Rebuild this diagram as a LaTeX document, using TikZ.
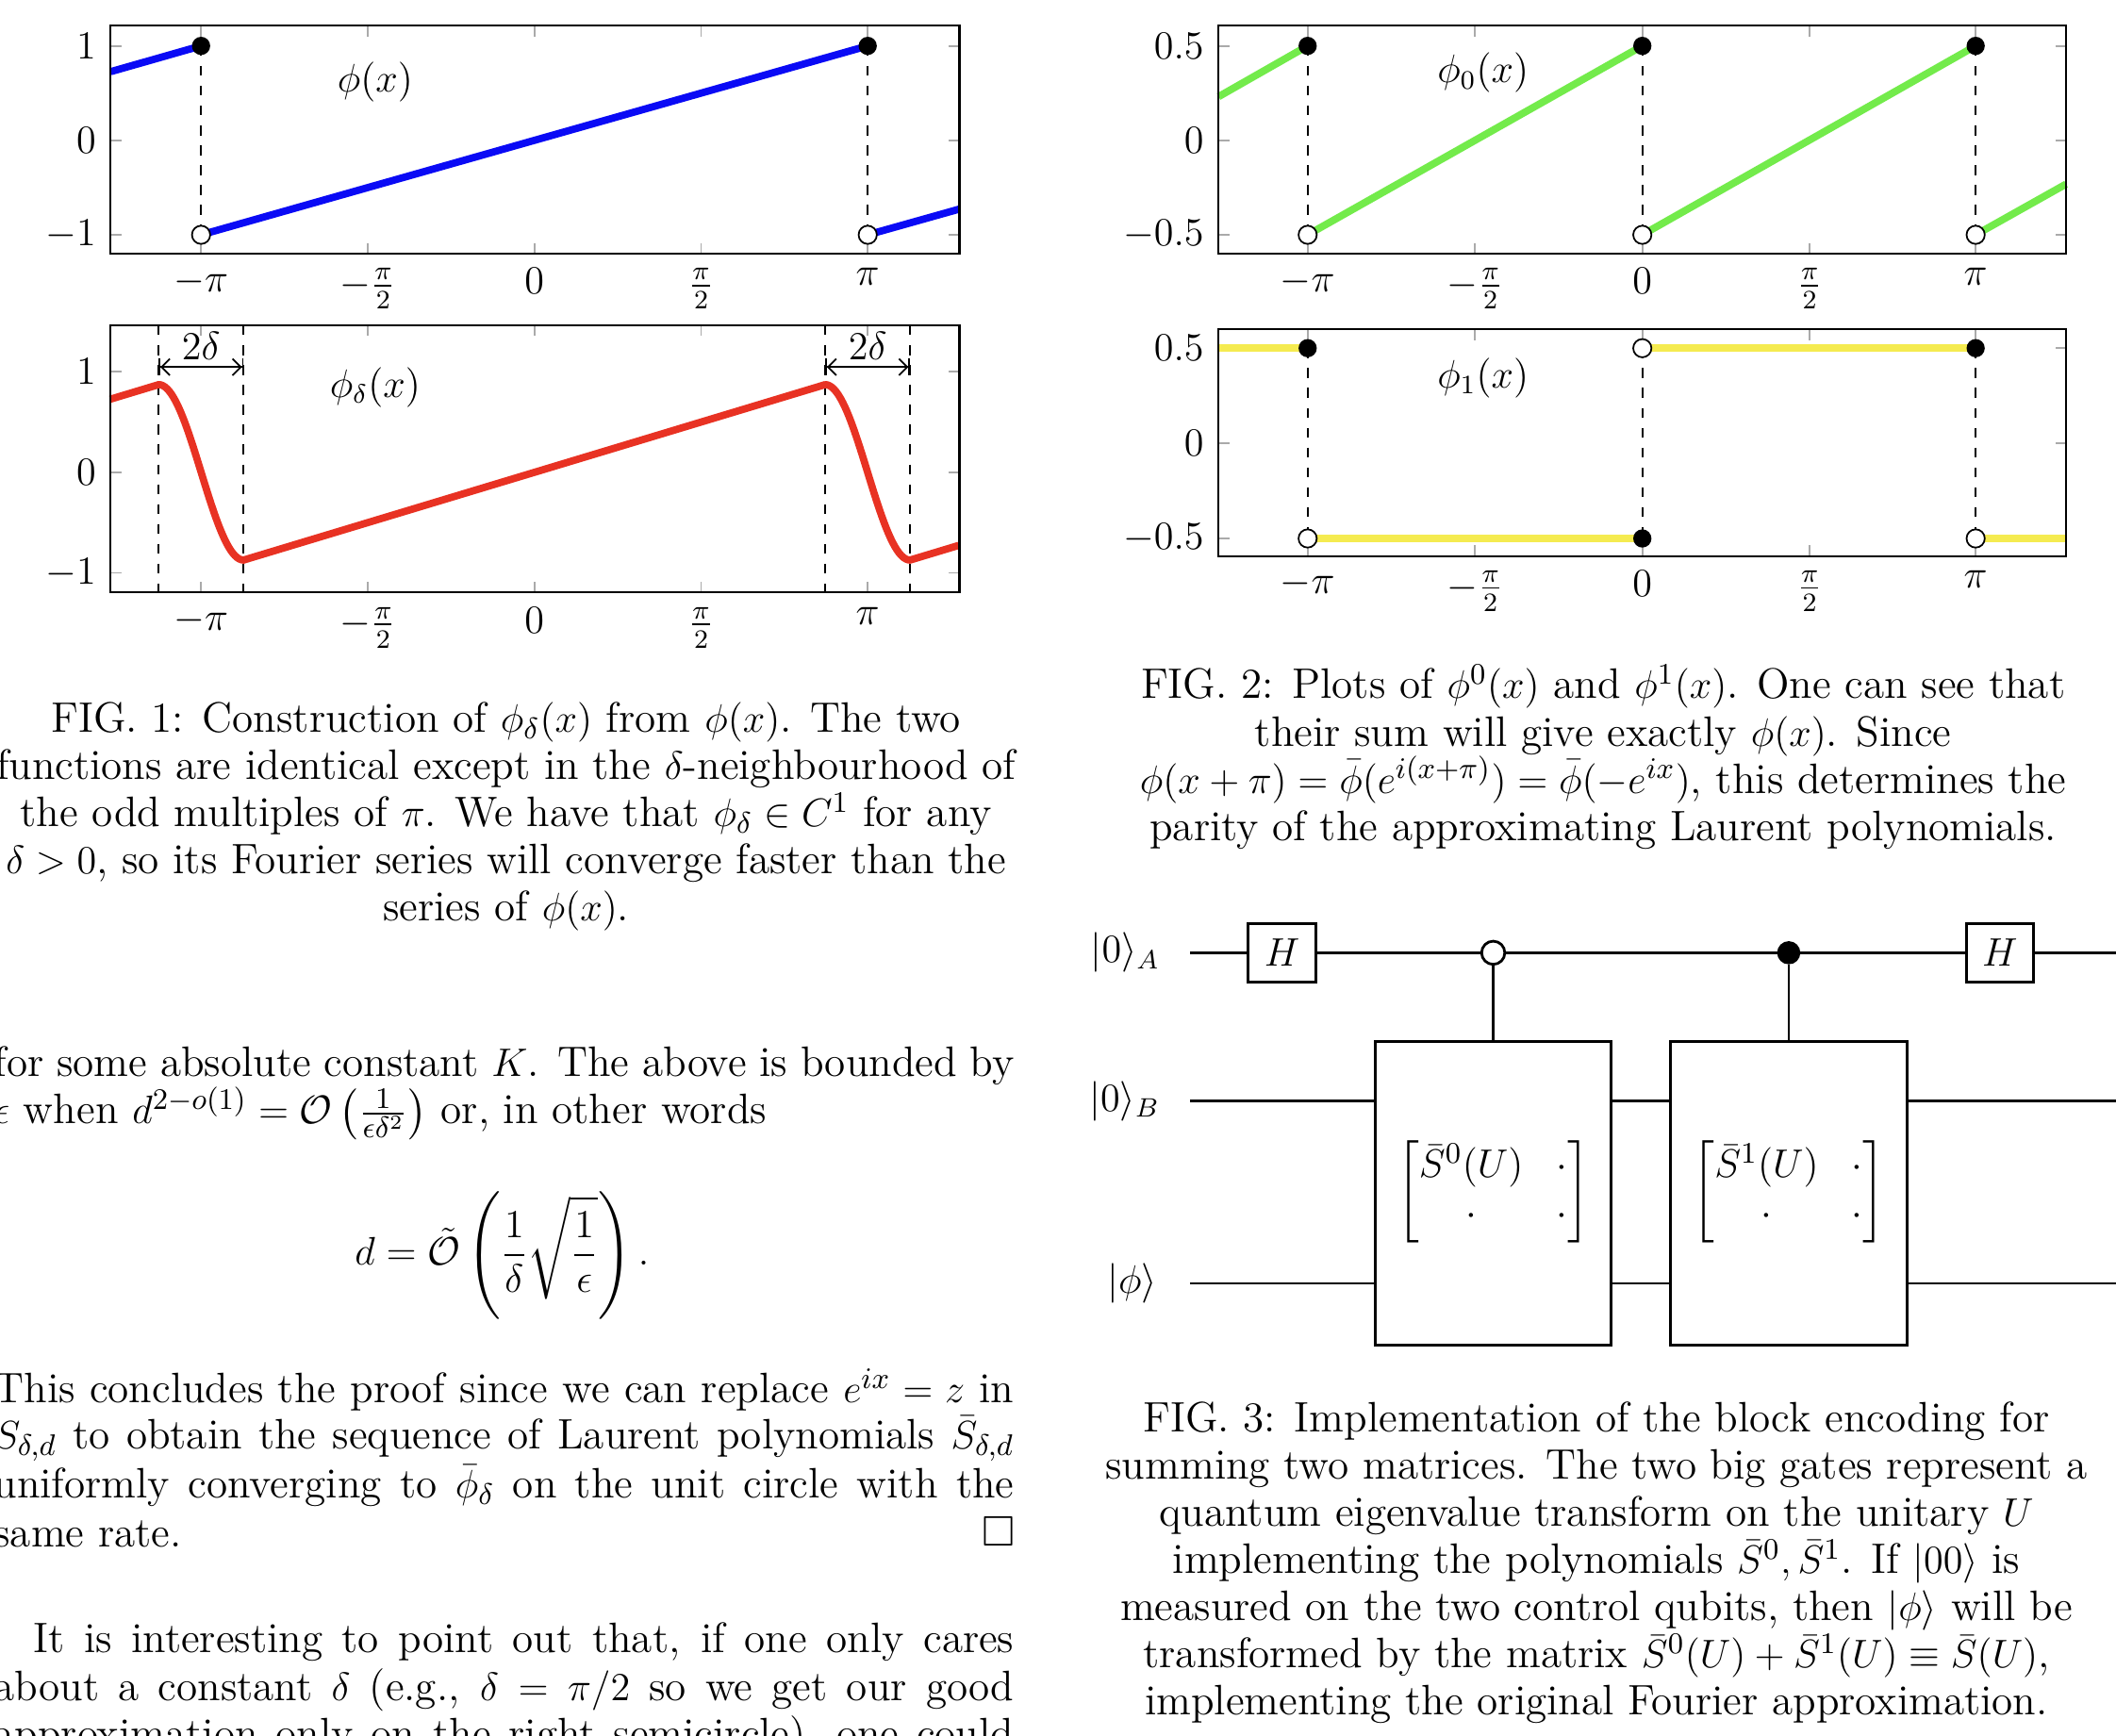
\documentclass[tikz,border=0pt]{standalone}
\usepackage{amsmath,amssymb}
\usetikzlibrary{arrows.meta}
\definecolor{cblue}{RGB}{10,10,245}
\definecolor{cgreen}{RGB}{115,235,75}
\definecolor{cyellow}{RGB}{245,235,80}
\definecolor{cred}{RGB}{232,50,35}
\definecolor{tickg}{RGB}{170,170,170}
\newcommand{\mytxt}{\fontsize{12.85}{14.25}\selectfont}
\newcommand{\plt}{\fontsize{12}{14}\selectfont}
\newcommand{\jl}[1]{\makebox[10.82cm][s]{#1}}
\tikzset{
  frame/.style={draw=black,line width=0.6pt},
  tk/.style={draw=tickg,line width=0.5pt},
  dsh/.style={dashed,line width=0.5pt},
  fdot/.style={circle,fill=black,inner sep=0pt,minimum size=5.5pt},
  odot/.style={circle,draw=black,fill=white,inner sep=0pt,minimum size=5.5pt,line width=0.5pt},
  curve/.style={line width=2.2pt},
  lab/.style={font=\plt,inner sep=1pt},
  ylab/.style={font=\plt,anchor=east,inner sep=1pt},
  line/.style={font=\mytxt,inner sep=0pt},
  wire/.style={line width=0.8pt},
  gate/.style={draw,line width=0.8pt,fill=white},
  dimarr/.style={{Bar[width=5pt]Straight Barb[length=2.5pt]}-{Straight Barb[length=2.5pt]Bar[width=5pt]},line width=0.5pt},
}
\begin{document}
\begin{tikzpicture}[x=0.01431cm,y=-0.01431cm]
\useasboundingbox (0,0) rectangle (1568,1286);
\clip (0,0) rectangle (1568,1286);
%%%% ---------- Plot 1: phi ----------
\foreach \xx in {149,272.5,396,519.5,643}{\draw[tk] (\xx,19)--(\xx,27); \draw[tk] (\xx,188)--(\xx,180);}
\foreach \yy in {34,104,174}{\draw[tk] (82,\yy)--(90,\yy); \draw[tk] (711,\yy)--(703,\yy);}
\draw[dsh] (149,34)--(149,174); \draw[dsh] (643,34)--(643,174);
\draw[cblue,curve] (82,53.1)--(149,34);
\draw[cblue,curve] (149,174)--(643,34);
\draw[cblue,curve] (643,174)--(711,154.9);
\draw[frame] (82,19) rectangle (711,188);
\node[fdot] (p1a) at (149,34) {}; \node[fdot] (p1b) at (643,34) {};
\node[odot] (p1c) at (149,174) {}; \node[odot] (p1d) at (643,174) {};
\node[lab] (l1) at (278,61) {$\phi(x)$};
\node[ylab] (y1a) at (74,34) {$1$};\node[ylab] (y1b) at (74,104) {$0$};\node[ylab] (y1c) at (74,174) {$-1$};
\node[lab,anchor=north] (x1a) at (149,196) {$-\pi$};
\node[lab,anchor=north] (x1b) at (272.5,196) {$-\frac{\pi}{2}$};
\node[lab,anchor=north] (x1c) at (396,196) {$0$};
\node[lab,anchor=north] (x1d) at (519.5,196) {$\frac{\pi}{2}$};
\node[lab,anchor=north] (x1e) at (643,196) {$\pi$};
%%%% ---------- Plot 2: phi_delta ----------
\foreach \xx in {149,272.5,396,519.5,643}{\draw[tk] (\xx,241)--(\xx,249); \draw[tk] (\xx,439)--(\xx,431);}
\foreach \yy in {275.5,350,424.5}{\draw[tk] (82,\yy)--(90,\yy); \draw[tk] (711,\yy)--(703,\yy);}
\foreach \xx in {117.6,180.5,611.5,674.4}{\draw[dsh] (\xx,241)--(\xx,439);}
\draw[cred,curve,line join=round]
  plot[domain=-4:-3.5416,samples=2] ({396+78.6*\x},{350-74.5*(\x/pi+2)})
  -- plot[domain=-3.5416:-2.7416,samples=40] ({396+78.6*\x},{350-74.5*0.8727*cos(deg(pi*(\x+3.5416)/0.8))})
  -- plot[domain=-2.7416:2.7416,samples=2] ({396+78.6*\x},{350-74.5*(\x/pi)})
  -- plot[domain=2.7416:3.5416,samples=40] ({396+78.6*\x},{350-74.5*0.8727*cos(deg(pi*(\x-2.7416)/0.8))})
  -- plot[domain=3.5416:4,samples=2] ({396+78.6*\x},{350-74.5*(\x/pi-2)});
\draw[frame] (82,241) rectangle (711,439);
\coordinate (d1) at (117.6,272); \coordinate (d2) at (180.5,272);
\coordinate (d3) at (611.5,272); \coordinate (d4) at (674.4,272);
\draw[dimarr] (d1)--(d2);
\draw[dimarr] (d3)--(d4);
\node[lab] (dl1) at (149,256) {$2\delta$};
\node[lab] (dl2) at (643,256) {$2\delta$};
\node[lab] (l2) at (278,287) {$\phi_\delta(x)$};
\node[ylab] (y2a) at (74,275.5) {$1$};\node[ylab] (y2b) at (74,350) {$0$};\node[ylab] (y2c) at (74,424.5) {$-1$};
\node[lab,anchor=north] (x2a) at (149,447) {$-\pi$};
\node[lab,anchor=north] (x2b) at (272.5,447) {$-\frac{\pi}{2}$};
\node[lab,anchor=north] (x2c) at (396,447) {$0$};
\node[lab,anchor=north] (x2d) at (519.5,447) {$\frac{\pi}{2}$};
\node[lab,anchor=north] (x2e) at (643,447) {$\pi$};
%%%% ---------- Plot 3: phi0 ----------
\foreach \xx in {969,1093,1217,1341,1464}{\draw[tk] (\xx,19)--(\xx,27); \draw[tk] (\xx,188)--(\xx,180);}
\foreach \yy in {34,104,174}{\draw[tk] (903,\yy)--(911,\yy); \draw[tk] (1531,\yy)--(1523,\yy);}
\foreach \xx in {969,1217,1464}{\draw[dsh] (\xx,34)--(\xx,174);}
\draw[cgreen,curve] (903,71.6)--(969,34);
\draw[cgreen,curve] (969,174)--(1217,34);
\draw[cgreen,curve] (1217,174)--(1464,34);
\draw[cgreen,curve] (1464,174)--(1531,136.4);
\draw[frame] (903,19) rectangle (1531,188);
\foreach \xx/\n in {969/a,1217/b,1464/c}{\node[fdot] (g\n) at (\xx,34) {}; \node[odot] (h\n) at (\xx,174) {};}
\node[lab] (l3) at (1099,54) {$\phi_0(x)$};
\node[ylab] (y3a) at (895,34) {$0.5$};\node[ylab] (y3b) at (895,104) {$0$};\node[ylab] (y3c) at (895,174) {$-0.5$};
\node[lab,anchor=north] (x3a) at (969,196) {$-\pi$};
\node[lab,anchor=north] (x3b) at (1093,196) {$-\frac{\pi}{2}$};
\node[lab,anchor=north] (x3c) at (1217,196) {$0$};
\node[lab,anchor=north] (x3d) at (1341,196) {$\frac{\pi}{2}$};
\node[lab,anchor=north] (x3e) at (1464,196) {$\pi$};
%%%% ---------- Plot 4: phi1 ----------
\foreach \xx in {969,1093,1217,1341,1464}{\draw[tk] (\xx,244)--(\xx,252); \draw[tk] (\xx,412)--(\xx,404);}
\foreach \yy in {258,328.5,399}{\draw[tk] (903,\yy)--(911,\yy); \draw[tk] (1531,\yy)--(1523,\yy);}
\foreach \xx in {969,1217,1464}{\draw[dsh] (\xx,258)--(\xx,399);}
\draw[cyellow,curve] (903,258)--(969,258);
\draw[cyellow,curve] (969,399)--(1217,399);
\draw[cyellow,curve] (1217,258)--(1464,258);
\draw[cyellow,curve] (1464,399)--(1531,399);
\draw[frame] (903,244) rectangle (1531,412);
\node[fdot] (ka) at (969,258) {}; \node[odot] (ma) at (969,399) {};
\node[odot] (kb) at (1217,258) {}; \node[fdot] (mb) at (1217,399) {};
\node[fdot] (kc) at (1464,258) {}; \node[odot] (mc) at (1464,399) {};
\node[lab] (l4) at (1099,280) {$\phi_1(x)$};
\node[ylab] (y4a) at (895,258) {$0.5$};\node[ylab] (y4b) at (895,328.5) {$0$};\node[ylab] (y4c) at (895,399) {$-0.5$};
\node[lab,anchor=north] (x4a) at (969,420) {$-\pi$};
\node[lab,anchor=north] (x4b) at (1093,420) {$-\frac{\pi}{2}$};
\node[lab,anchor=north] (x4c) at (1217,420) {$0$};
\node[lab,anchor=north] (x4d) at (1341,420) {$\frac{\pi}{2}$};
\node[lab,anchor=north] (x4e) at (1464,420) {$\pi$};
%%%% ---------- Circuit ----------
\coordinate (wa0) at (882,706); \coordinate (wa1) at (1568,706);
\coordinate (wb0) at (882,816); \coordinate (wb1) at (1568,816);
\coordinate (wc0) at (882,951); \coordinate (wc1) at (1568,951);
\draw[wire] (wa0)--(wa1); \draw[wire] (wb0)--(wb1); \draw[wire] (wc0)--(wc1);
\node[font=\plt,anchor=east] (qa) at (868,706) {$|0\rangle_A$};
\node[font=\plt,anchor=east] (qb) at (868,816) {$|0\rangle_B$};
\node[font=\plt,anchor=east] (qc) at (866,951) {$|\phi\rangle$};
\node[gate,minimum width=0.716cm,minimum height=0.615cm,font=\mytxt] (h1) at (950,706) {$H$};
\node[gate,minimum width=0.716cm,minimum height=0.615cm,font=\mytxt] (h2) at (1482,706) {$H$};
\node[gate,minimum width=2.504cm,minimum height=3.22cm,anchor=north] (u0) at (1106.5,771) {};
\node[gate,minimum width=2.504cm,minimum height=3.22cm,anchor=north] (u1) at (1325.5,771) {};
\node[font=\mytxt] (m0) at (1106.5,883) {$\begin{bmatrix}\bar S^0(U) & \cdot\\ \cdot & \cdot\end{bmatrix}$};
\node[font=\mytxt] (m1) at (1325.5,883) {$\begin{bmatrix}\bar S^1(U) & \cdot\\ \cdot & \cdot\end{bmatrix}$};
\node[circle,draw,fill=white,line width=0.8pt,inner sep=0pt,minimum size=7pt] (c0) at (1106.5,706) {};
\node[circle,fill=black,inner sep=0pt,minimum size=7pt] (c1) at (1325.5,706) {};
\draw[wire] (c0)--(u0.north); \draw[wire] (c1)--(u1.north);
%%%% ---------- Captions & text ----------
\node[line,align=center] (f1) at (375,605) {FIG. 1: Construction of $\phi_\delta(x)$ from $\phi(x)$. The two\\
functions are identical except in the $\delta$-neighbourhood of\\
the odd multiples of $\pi$. We have that $\phi_\delta\in C^1$ for any\\
$\delta>0$, so its Fourier series will converge faster than the\\
series of $\phi(x)$.};
\node[line,anchor=west] (t1) at (-5,790) {\jl{for some absolute constant $K$. The above is bounded by}};
\node[line,anchor=west] (t2) at (-5,825) {$\epsilon$ when $d^{2-o(1)}=\mathcal{O}\left(\frac{1}{\epsilon\delta^2}\right)$ or, in other words};
\node[line] (eq) at (372,930) {$\displaystyle d=\tilde{\mathcal{O}}\left(\frac{1}{\delta}\sqrt{\frac{1}{\epsilon}}\right).$};
\node[line,anchor=west] (t3) at (-5,1030) {\jl{This concludes the proof since we can replace $e^{ix}=z$ in}};
\node[line,anchor=west] (t4) at (-5,1066) {\jl{$S_{\delta,d}$ to obtain the sequence of Laurent polynomials $\bar S_{\delta,d}$}};
\node[line,anchor=west] (t5) at (-5,1101) {\jl{uniformly converging to $\bar\phi_\delta$ on the unit circle with the}};
\node[line,anchor=west] (t6) at (-5,1137) {same rate.};
\node[line] (qed) at (740,1135) {$\square$};
\node[line,anchor=west] (t7) at (-5,1217) {\jl{\hspace*{0.42cm}It is interesting to point out that, if one only cares}};
\node[line,anchor=west] (t8) at (-5,1252) {\jl{about a constant $\delta$ (e.g., $\delta=\pi/2$ so we get our good}};
\node[line,anchor=west] (t9) at (-5,1287) {\jl{approximation only on the right semicircle), one could}};
\node[line,align=center] (f2) at (1188,561) {FIG. 2: Plots of $\phi^0(x)$ and $\phi^1(x)$. One can see that\\
their sum will give exactly $\phi(x)$. Since\\
$\phi(x+\pi)=\bar\phi(e^{i(x+\pi)})=\bar\phi(-e^{ix})$, this determines the\\
parity of the approximating Laurent polynomials.};
\node[line,align=center] (f3) at (1183,1158) {FIG. 3: Implementation of the block encoding for\\
summing two matrices. The two big gates represent a\\
quantum eigenvalue transform on the unitary $U$\\
implementing the polynomials $\bar S^0,\bar S^1$. If $|00\rangle$ is\\
measured on the two control qubits, then $|\phi\rangle$ will be\\
transformed by the matrix $\bar S^0(U)+\bar S^1(U)\equiv\bar S(U)$,\\
implementing the original Fourier approximation.};
\end{tikzpicture}
\end{document}
